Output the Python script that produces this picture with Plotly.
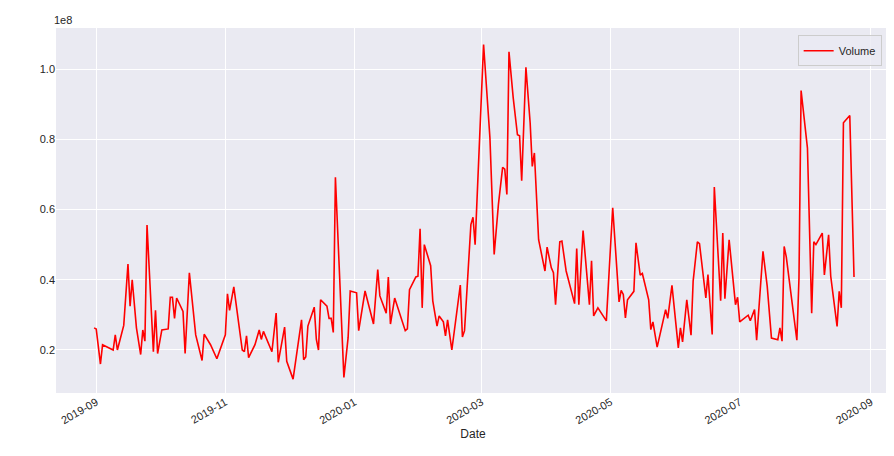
import plotly.graph_objects as go

# vertices (volume in units of 1e8)
dates = [
    "2019-08-31", "2019-09-01", "2019-09-03", "2019-09-04", "2019-09-09", "2019-09-10",
    "2019-09-11", "2019-09-14", "2019-09-16", "2019-09-17", "2019-09-18", "2019-09-20",
    "2019-09-22", "2019-09-23", "2019-09-24", "2019-09-25", "2019-09-28", "2019-09-29",
    "2019-09-30", "2019-10-02", "2019-10-05", "2019-10-06", "2019-10-07", "2019-10-08",
    "2019-10-09", "2019-10-12", "2019-10-13", "2019-10-15", "2019-10-18", "2019-10-21",
    "2019-10-22", "2019-10-25", "2019-10-28", "2019-11-01", "2019-11-02", "2019-11-03",
    "2019-11-05", "2019-11-09", "2019-11-10", "2019-11-11", "2019-11-12", "2019-11-15",
    "2019-11-17", "2019-11-18", "2019-11-19", "2019-11-23", "2019-11-25", "2019-11-26",
    "2019-11-29", "2019-11-30", "2019-12-03", "2019-12-07", "2019-12-08", "2019-12-09",
    "2019-12-10", "2019-12-13", "2019-12-14", "2019-12-15", "2019-12-16", "2019-12-19",
    "2019-12-20", "2019-12-21", "2019-12-22", "2019-12-23", "2019-12-27", "2019-12-29",
    "2019-12-30", "2020-01-02", "2020-01-03", "2020-01-06", "2020-01-10", "2020-01-12",
    "2020-01-13", "2020-01-16", "2020-01-17", "2020-01-18", "2020-01-20", "2020-01-25",
    "2020-01-26", "2020-01-27", "2020-01-30", "2020-01-31", "2020-02-01", "2020-02-02",
    "2020-02-03", "2020-02-06", "2020-02-07", "2020-02-09", "2020-02-10", "2020-02-12",
    "2020-02-13", "2020-02-14", "2020-02-16", "2020-02-20", "2020-02-21", "2020-02-22",
    "2020-02-25", "2020-02-26", "2020-02-27", "2020-03-02", "2020-03-05", "2020-03-07",
    "2020-03-09", "2020-03-11", "2020-03-12", "2020-03-13", "2020-03-14", "2020-03-16",
    "2020-03-18", "2020-03-19", "2020-03-20", "2020-03-22", "2020-03-24", "2020-03-25",
    "2020-03-26", "2020-03-28", "2020-03-31", "2020-04-01", "2020-04-03", "2020-04-04",
    "2020-04-05", "2020-04-07", "2020-04-08", "2020-04-10", "2020-04-14", "2020-04-15",
    "2020-04-16", "2020-04-18", "2020-04-21", "2020-04-22", "2020-04-23", "2020-04-25",
    "2020-04-29", "2020-05-02", "2020-05-05", "2020-05-06", "2020-05-07", "2020-05-08",
    "2020-05-09", "2020-05-12", "2020-05-13", "2020-05-15", "2020-05-16", "2020-05-19",
    "2020-05-20", "2020-05-21", "2020-05-23", "2020-05-27", "2020-05-28", "2020-05-30",
    "2020-06-02", "2020-06-03", "2020-06-04", "2020-06-06", "2020-06-08", "2020-06-09",
    "2020-06-11", "2020-06-12", "2020-06-15", "2020-06-16", "2020-06-18", "2020-06-19",
    "2020-06-22", "2020-06-23", "2020-06-24", "2020-06-26", "2020-06-29", "2020-06-30",
    "2020-07-01", "2020-07-05", "2020-07-06", "2020-07-08", "2020-07-09", "2020-07-12",
    "2020-07-14", "2020-07-16", "2020-07-19", "2020-07-20", "2020-07-21", "2020-07-22",
    "2020-07-23", "2020-07-28", "2020-07-29", "2020-07-30", "2020-08-02", "2020-08-04",
    "2020-08-05", "2020-08-06", "2020-08-09", "2020-08-10", "2020-08-12", "2020-08-13",
    "2020-08-16", "2020-08-17", "2020-08-18", "2020-08-19", "2020-08-22", "2020-08-24",
]
volume = [
    0.263, 0.26, 0.16, 0.215, 0.20, 0.243,
    0.20, 0.27, 0.445, 0.325, 0.40, 0.263,
    0.187, 0.257, 0.225, 0.556, 0.195, 0.313,
    0.19, 0.257, 0.26, 0.35, 0.35, 0.29,
    0.348, 0.31, 0.19, 0.42, 0.243, 0.17,
    0.245, 0.215, 0.175, 0.243, 0.36, 0.313,
    0.38, 0.20, 0.195, 0.24, 0.178, 0.215,
    0.257, 0.23, 0.253, 0.195, 0.305, 0.165,
    0.265, 0.168, 0.117, 0.286, 0.172, 0.18,
    0.268, 0.322, 0.23, 0.20, 0.343, 0.325,
    0.29, 0.29, 0.25, 0.692, 0.122, 0.235,
    0.368, 0.363, 0.255, 0.368, 0.274, 0.429,
    0.354, 0.305, 0.408, 0.274, 0.348, 0.255,
    0.26, 0.372, 0.408, 0.41, 0.545, 0.32,
    0.50, 0.44, 0.34, 0.268, 0.297, 0.28,
    0.24, 0.286, 0.20, 0.385, 0.237, 0.255,
    0.557, 0.578, 0.50, 1.07, 0.804, 0.472,
    0.614, 0.72, 0.715, 0.643, 1.049, 0.918,
    0.813, 0.81, 0.682, 1.005, 0.847, 0.723,
    0.761, 0.514, 0.425, 0.493, 0.434, 0.42,
    0.329, 0.508, 0.51, 0.425, 0.332, 0.489,
    0.329, 0.54, 0.329, 0.454, 0.297, 0.32,
    0.283, 0.605, 0.337, 0.37, 0.358, 0.291,
    0.343, 0.367, 0.505, 0.413, 0.418, 0.343,
    0.258, 0.28, 0.208, 0.315, 0.29, 0.384,
    0.206, 0.263, 0.223, 0.343, 0.242, 0.396,
    0.508, 0.503, 0.348, 0.415, 0.244, 0.664,
    0.34, 0.533, 0.346, 0.514, 0.329, 0.35,
    0.28, 0.299, 0.283, 0.315, 0.228, 0.481,
    0.381, 0.234, 0.229, 0.263, 0.225, 0.495,
    0.465, 0.228, 0.405, 0.939, 0.775, 0.305,
    0.508, 0.50, 0.533, 0.414, 0.528, 0.41,
    0.267, 0.367, 0.32, 0.847, 0.868, 0.408,
]

x_ticks = ["2019-09-01", "2019-11-01", "2020-01-01", "2020-03-01", "2020-05-01", "2020-07-01", "2020-09-01"]
x_labels = ["2019-09", "2019-11", "2020-01", "2020-03", "2020-05", "2020-07", "2020-09"]
y_ticks = [0.2, 0.4, 0.6, 0.8, 1.0]

fig = go.Figure()
fig.add_trace(go.Scatter(x=dates, y=volume, mode="lines", name="Volume",
                         line=dict(color="#ff0000", width=1.6)))

fig.update_layout(
    width=894, height=456,
    margin=dict(l=48, r=12, t=20, b=71),
    paper_bgcolor="white", plot_bgcolor="#EAEAF2",
    font=dict(family="Liberation Sans, Arial, sans-serif", size=11, color="#262626"),
    showlegend=True,
    legend=dict(x=0.99, y=0.98, xanchor="right", yanchor="top",
                bgcolor="rgba(234,234,242,0.8)", bordercolor="#cccccc", borderwidth=1,
                font=dict(size=11)),
)
fig.update_xaxes(range=["2019-08-13", "2020-09-10"], tickvals=x_ticks, ticktext=x_labels,
                 tickangle=-30, gridcolor="white", gridwidth=1.2, showline=False, zeroline=False,
                 automargin=False,
                 title=dict(text="Date", font=dict(size=12), standoff=4))
fig.update_yaxes(range=[0.0775, 1.117], tickvals=y_ticks, tickformat=".1f", automargin=False,
                 gridcolor="white", gridwidth=1.2, showline=False, zeroline=False)
fig.add_annotation(text="1e8", xref="paper", yref="paper", x=0, y=1, xanchor="left",
                   yanchor="bottom", showarrow=False, font=dict(size=11), xshift=-4)

fig.write_html("out.html")
